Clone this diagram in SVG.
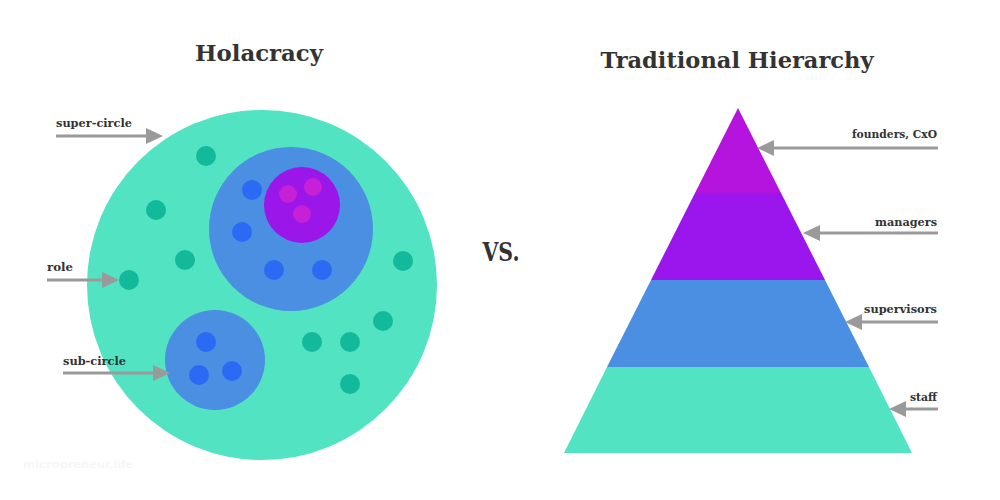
<svg xmlns="http://www.w3.org/2000/svg" width="1000" height="500" viewBox="0 0 1000 500">
<defs>
<style>
.t{font-family:"DejaVu Serif","Liberation Serif",serif;font-weight:bold;fill:#333333}
.title{font-size:23px}
.lab{font-size:11px}
.arr{stroke:#9a9a9a;stroke-width:3;fill:none}
.head{fill:#9a9a9a}
.role{fill:#13b99b}
.sub{fill:#2a6af4}
.pink{fill:#c621d6}
</style>
</defs>
<rect width="1000" height="500" fill="#ffffff"/>
<text class="t title" x="259" y="61" text-anchor="middle" textLength="128" lengthAdjust="spacingAndGlyphs">Holacracy</text>
<text class="t title" x="737" y="68" text-anchor="middle" textLength="273" lengthAdjust="spacingAndGlyphs">Traditional Hierarchy</text>
<text class="t" x="501" y="261" text-anchor="middle" font-size="26" textLength="37" lengthAdjust="spacingAndGlyphs">VS.</text>
<text x="23" y="468" font-family="Liberation Sans, sans-serif" font-size="11" font-weight="bold" fill="#f6f6f6" textLength="110" lengthAdjust="spacingAndGlyphs">micropreneur.life</text>

<g id="super-circle">
<circle cx="262" cy="285" r="175" fill="#52e3c3"/>
</g>
<g id="roles">
<circle class="role" cx="206" cy="156" r="10"/>
<circle class="role" cx="156" cy="210" r="10"/>
<circle class="role" cx="185" cy="260" r="10"/>
<circle class="role" cx="129" cy="280" r="10"/>
<circle class="role" cx="403" cy="261" r="10"/>
<circle class="role" cx="383" cy="321" r="10"/>
<circle class="role" cx="312" cy="342" r="10"/>
<circle class="role" cx="350" cy="342" r="10"/>
<circle class="role" cx="350" cy="384" r="10"/>
</g>
<g id="sub-circle-upper">
<circle cx="291" cy="229" r="82" fill="#4a8fe1"/>
<circle class="sub" cx="252" cy="190" r="10"/>
<circle class="sub" cx="242" cy="232" r="10"/>
<circle class="sub" cx="274" cy="270" r="10"/>
<circle class="sub" cx="322" cy="270" r="10"/>
</g>
<g id="sub-sub-circle">
<circle cx="302" cy="205" r="38" fill="#9b16e9"/>
<circle class="pink" cx="288" cy="194" r="9"/>
<circle class="pink" cx="313" cy="187" r="9"/>
<circle class="pink" cx="302" cy="214" r="9"/>
</g>
<g id="sub-circle-lower">
<circle cx="215" cy="360" r="50" fill="#4a8fe1"/>
<circle class="sub" cx="206" cy="342" r="10"/>
<circle class="sub" cx="199" cy="375" r="10"/>
<circle class="sub" cx="232" cy="371" r="10"/>
</g>

<g id="pyramid">
<polygon id="tier-founders" points="738,108 781,193 695,193" fill="#b414de"/>
<polygon id="tier-managers" points="695,193 781,193 825,280 651,280" fill="#9a16ec"/>
<polygon id="tier-supervisors" points="651,280 825,280 869,367 607,367" fill="#4a8fe1"/>
<polygon id="tier-staff" points="607,367 869,367 912,453 564,453" fill="#52e3c3"/>
</g>

<g id="connectors">
<line class="arr" x1="56" y1="136" x2="148" y2="136"/>
<polygon class="head" points="146,128 163,136 146,144"/>
<line class="arr" x1="47" y1="280" x2="104" y2="280"/>
<polygon class="head" points="102,272 119,280 102,288"/>
<line class="arr" x1="63" y1="373" x2="155" y2="373"/>
<polygon class="head" points="153,365 170,373 153,381"/>
<line class="arr" x1="938" y1="148" x2="772" y2="148"/>
<polygon class="head" points="774,140 757,148 774,156"/>
<line class="arr" x1="938" y1="233" x2="818" y2="233"/>
<polygon class="head" points="820,225 803,233 820,241"/>
<line class="arr" x1="938" y1="322" x2="860" y2="322"/>
<polygon class="head" points="862,314 845,322 862,330"/>
<line class="arr" x1="938" y1="409" x2="904" y2="409"/>
<polygon class="head" points="906,401 889,409 906,417"/>
</g>

<g id="labels">
<text class="t lab" x="56" y="127" textLength="76" lengthAdjust="spacingAndGlyphs">super-circle</text>
<text class="t lab" x="47" y="271" textLength="26" lengthAdjust="spacingAndGlyphs">role</text>
<text class="t lab" x="63" y="365" textLength="63" lengthAdjust="spacingAndGlyphs">sub-circle</text>
<text class="t lab" x="937" y="138" text-anchor="end" textLength="85" lengthAdjust="spacingAndGlyphs">founders, CxO</text>
<text class="t lab" x="937" y="226" text-anchor="end" textLength="62" lengthAdjust="spacingAndGlyphs">managers</text>
<text class="t lab" x="937" y="313" text-anchor="end" textLength="73" lengthAdjust="spacingAndGlyphs">supervisors</text>
<text class="t lab" x="937" y="401" text-anchor="end" textLength="27" lengthAdjust="spacingAndGlyphs">staff</text>
</g>
</svg>
